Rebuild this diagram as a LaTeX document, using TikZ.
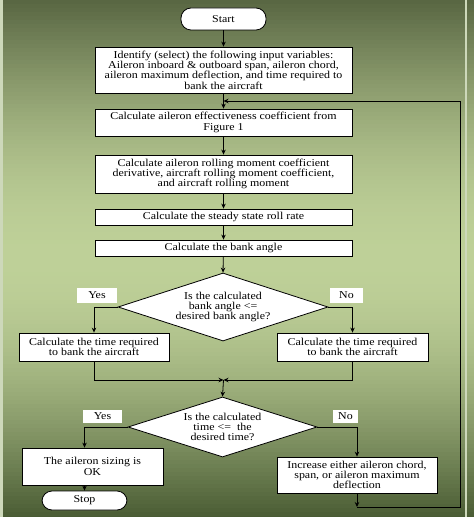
\documentclass[tikz,border=0pt]{standalone}
\usepackage{fontspec}
\setmainfont[FakeStretch=1.13]{Liberation Serif}
\usetikzlibrary{arrows.meta,shapes.geometric,calc}
\definecolor{bgtop}{RGB}{88,102,66}
\definecolor{bgmid}{RGB}{190,208,152}
\definecolor{bgbot}{RGB}{74,92,52}
\definecolor{frame}{RGB}{205,216,186}
\begin{document}
\begin{tikzpicture}[x=1bp,y=-1bp,
  txt/.style={font=\fontsize{10.6}{10.3}\selectfont,align=center},
  box/.style={txt,draw=black,fill=white,line width=0.8bp,inner sep=0pt},
  term/.style={box,rounded corners=10bp},
  dec/.style={diamond,draw=black,fill=white,line width=0.8bp,inner sep=0pt},
  lab/.style={txt,fill=white,inner sep=0pt},
  conn/.style={line width=0.8bp,draw=black},
  arr/.style={conn,-{Stealth[length=5bp,width=4.5bp]}}
]
\useasboundingbox (0,0) rectangle (474,517);
% background gradient drawn as thin strips
\foreach \i in {0,...,129}{
  \pgfmathsetmacro{\ya}{\i*4}
  \pgfmathsetmacro{\yb}{\i*4+4.5}
  \pgfmathsetmacro{\yc}{\i*4+2}
  \pgfmathsetmacro{\p}{100*sin(180*(\yc/517))}
  \ifdim\yc pt<258pt
    \colorlet{strip}{bgmid!\p!bgtop}
  \else
    \colorlet{strip}{bgmid!\p!bgbot}
  \fi
  \fill[strip] (0,\ya) rectangle (474,\yb);
}
\fill[frame] (0,0) rectangle (2.5,517);
\fill[frame] (465,0) rectangle (467,517);

\node[term,minimum width=85bp,minimum height=22bp] (start) at (223.5,19) {Start};
\node[box,minimum width=257bp,minimum height=46bp] (input) at (223.5,70)
  {Identify (select) the following input variables:\\Aileron inboard \& outboard span, aileron chord,\\aileron maximum deflection, and time required to\\bank the aircraft};
\node[box,minimum width=257bp,minimum height=27bp] (eff) at (223.5,122.5)
  {Calculate aileron effectiveness coefficient from\\Figure 1};
\node[box,minimum width=257bp,minimum height=38bp] (roll) at (223.5,174)
  {Calculate aileron rolling moment coefficient\\derivative, aircraft rolling moment coefficient,\\and aircraft rolling moment};
\node[box,minimum width=257bp,minimum height=16bp] (rate) at (223.5,217)
  {Calculate the steady state roll rate};
\node[box,minimum width=257bp,minimum height=16bp] (bank) at (223.5,248)
  {Calculate the bank angle};

\node[dec,minimum width=210bp,minimum height=68bp] (d1) at (223,307) {};
\node[txt] (d1t) at (d1.center) {Is the calculated\\bank angle <=\\desired bank angle?};
\node[lab,minimum width=40bp,minimum height=15bp] (yes1) at (97,295.5) {Yes};
\node[lab,minimum width=33bp,minimum height=15bp] (no1) at (346.5,295.5) {No};

\node[box,minimum width=150bp,minimum height=28bp] (left1) at (94,347)
  {Calculate the time required\\to bank the aircraft};
\node[box,minimum width=151bp,minimum height=28bp] (right1) at (352.5,347)
  {Calculate the time required\\to bank the aircraft};

\coordinate (m1) at (223.5,380);
\node[dec,minimum width=189bp,minimum height=60bp] (d2) at (222.5,427) {};
\node[txt] (d2t) at (d2.center) {Is the calculated\\time <=~ the\\desired time?};
\node[lab,minimum width=39bp,minimum height=13bp] (yes2) at (102.5,416.5) {Yes};
\node[lab,minimum width=25bp,minimum height=13bp] (no2) at (345.5,416.5) {No};

\node[box,minimum width=141bp,minimum height=37bp] (ok) at (92.5,466.5)
  {The aileron sizing is\\OK};
\node[term,minimum width=85bp,minimum height=19bp] (stop) at (84.5,500.5) {Stop};
\node[box,minimum width=160bp,minimum height=36bp] (inc) at (357,475)
  {Increase either aileron chord,\\span, or aileron maximum\\deflection};

\coordinate (jn) at (223.5,101);
\coordinate (fbA) at (357,507);
\coordinate (fbB) at (460,507);
\coordinate (fbC) at (460,101);

\draw[arr] (start) -- (input);
\draw[arr] (input) -- (eff);
\draw[arr] (eff) -- (roll);
\draw[arr] (roll) -- (rate);
\draw[arr] (rate) -- (bank);
\draw[arr] (bank) -- (d1.north);
\draw[arr] (d1.west) -| (left1.north);
\draw[arr] (d1.east) -| (right1.north);
\draw[arr] (left1.south) |- (m1);
\draw[arr] (right1.south) |- (m1);
\draw[arr] (m1) -- (d2.north);
\draw[arr] (d2.west) -| (ok.north -| stop.north);
\draw[arr] (ok.south -| stop.north) -- (stop.north);
\draw[arr] (d2.east) -| (inc.north);
\draw[arr] (inc.south) -- (fbA);
\draw[arr] (fbA) -- (fbB) -- (fbC) -- (jn);
\end{tikzpicture}
\end{document}
